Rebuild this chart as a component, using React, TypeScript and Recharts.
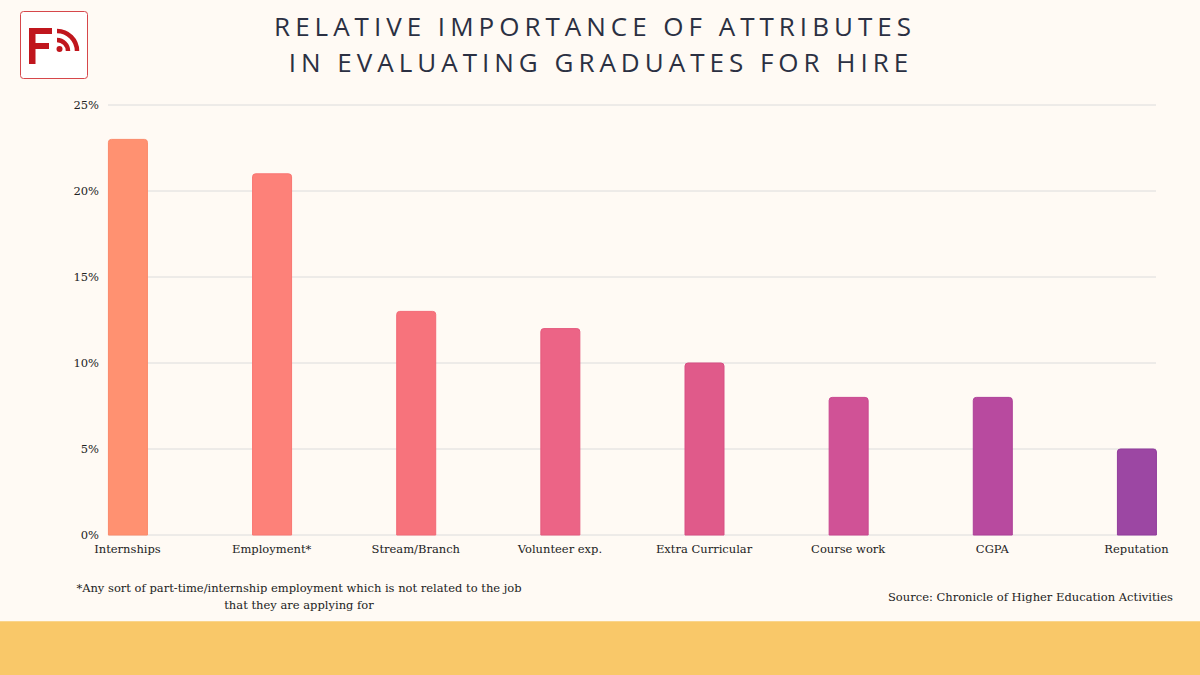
import React from "react";
import { BarChart, Bar, XAxis, YAxis, CartesianGrid, Cell } from "recharts";

const categories = [
  "Internships",
  "Employment*",
  "Stream/Branch",
  "Volunteer exp.",
  "Extra Curricular",
  "Course work",
  "CGPA",
  "Reputation",
];
const importance = [23, 21, 13, 12, 10, 8, 8, 5];
const yTicks = [0, 5, 10, 15, 20, 25];

const barColors = ["#ff9171", "#fd8179", "#f7737c", "#ec6486", "#e05a8a", "#d05296", "#b84a9f", "#9c47a3"];
const barStrokes = ["#fb8a6a", "#f97672", "#f26a76", "#e55a7e", "#d84f83", "#c9478f", "#ad3f98", "#913d9c"];

const data = categories.map((name, i) => ({ idx: i, name, value: importance[i] }));

const serif = "'DejaVu Serif', 'Liberation Serif', serif";

function Logo() {
  const red = "#c0161d";
  return (
    <svg width={68} height={68} style={{ position: "absolute", left: 20, top: 11 }}>
      <rect x={0.5} y={0.5} width={67} height={67} rx={3} fill="#ffffff" stroke="#d6474b" />
      {/* F */}
      <rect x={9} y={17} width={6.5} height={36} fill={red} />
      <rect x={9} y={17} width={23} height={6} fill={red} />
      <rect x={9} y={32} width={20} height={6} fill={red} />
      {/* signal arcs */}
      <circle cx={39.5} cy={38} r={3} fill={red} />
      <path d="M37 29 A11 11 0 0 1 48 40" fill="none" stroke={red} strokeWidth={4.5} />
      <path d="M37 20 A20 20 0 0 1 57 40" fill="none" stroke={red} strokeWidth={4.5} />
    </svg>
  );
}

export default function App() {
  return (
    <div
      style={{
        position: "absolute",
        left: 0,
        top: 0,
        width: 1200,
        height: 675,
        background: "#fffaf4",
        overflow: "hidden",
      }}
    >
      <Logo />
      <div
        style={{
          position: "absolute",
          left: 0,
          top: 8,
          width: 1190,
          textAlign: "center",
          fontFamily: "'Open Sans', sans-serif",
          fontSize: 26,
          lineHeight: "36px",
          letterSpacing: 5,
          color: "#2b3042",
        }}
      >
        RELATIVE IMPORTANCE OF ATTRIBUTES
        <br />
        <span style={{ position: "relative", left: 6 }}>IN EVALUATING GRADUATES FOR HIRE</span>
      </div>

      <div style={{ position: "absolute", left: 0, top: 0 }}>
        <BarChart width={1200} height={675} data={data} margin={{ top: 105, right: 44, left: 0, bottom: 110 }}>
          <CartesianGrid vertical={false} stroke="#dcdcdc" />
          <XAxis
            dataKey="idx"
            type="number"
            domain={[0, 7]}
            ticks={[0, 1, 2, 3, 4, 5, 6, 7]}
            interval={0}
            padding={{ left: 19.5, right: 19.5 }}
            tickFormatter={(v: number) => categories[v]}
            axisLine={false}
            tickLine={false}
            tickMargin={4}
            height={30}
            tick={{ fill: "#222222", fontSize: 11.5, fontFamily: serif }}
          />
          <YAxis
            domain={[0, 25]}
            ticks={yTicks}
            width={108}
            axisLine={false}
            tickLine={false}
            tickMargin={3}
            tickFormatter={(v: number) => `${v}%`}
            tick={{ fill: "#222222", fontSize: 11.5, fontFamily: serif }}
          />
          <Bar dataKey="value" barSize={39} radius={[3, 3, 0, 0]} isAnimationActive={false}>
            {data.map((d, i) => (
              <Cell key={d.name} fill={barColors[i]} stroke={barStrokes[i]} strokeWidth={1} />
            ))}
          </Bar>
        </BarChart>
      </div>

      <div
        style={{
          position: "absolute",
          left: 29,
          top: 580,
          width: 540,
          textAlign: "center",
          fontFamily: serif,
          fontSize: 11.5,
          lineHeight: "17px",
          color: "#222222",
        }}
      >
        *Any sort of part-time/internship employment which is not related to the job
        <br />
        that they are applying for
      </div>
      <div
        style={{
          position: "absolute",
          right: 27,
          top: 589,
          fontFamily: serif,
          fontSize: 11.5,
          lineHeight: "17px",
          color: "#222222",
        }}
      >
        Source: Chronicle of Higher Education Activities
      </div>

      <div
        style={{
          position: "absolute",
          left: 0,
          top: 621,
          width: 1200,
          height: 54,
          background: "#f9c869",
          borderTop: "1px solid #fad58c",
        }}
      />
    </div>
  );
}
